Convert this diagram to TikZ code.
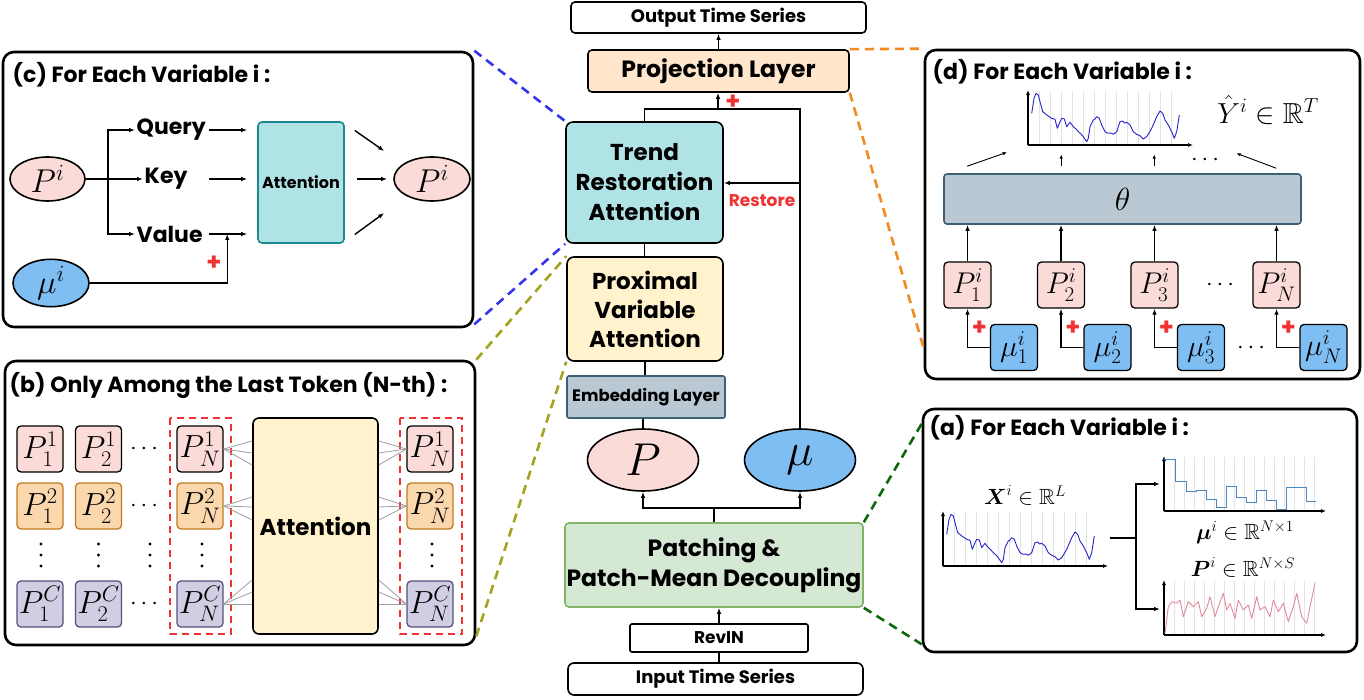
\RequirePackage{fix-cm}
\documentclass[tikz,border=0pt]{standalone}
\usepackage{fontspec}
\setmainfont{Poppins}
\usepackage{amsmath,amssymb}
\usetikzlibrary{arrows.meta,shapes.geometric,calc}
\newcommand\fs[2]{\fontsize{#1}{#2}\selectfont}
\definecolor{cpink}{HTML}{FADBD8}
\definecolor{cpeach}{HTML}{FFE6CC}
\definecolor{cteal}{HTML}{B0E3E6}
\definecolor{ctealdk}{HTML}{1A8A90}
\definecolor{cyel}{HTML}{FFF2CC}
\definecolor{cslate}{HTML}{BAC8D3}
\definecolor{cslatedk}{HTML}{3E5F78}
\definecolor{cgreen}{HTML}{D5E8D4}
\definecolor{cgreendk}{HTML}{82B366}
\definecolor{cblue}{HTML}{7EBEF2}
\definecolor{corg}{HTML}{FAD7AC}
\definecolor{corgdk}{HTML}{C07A20}
\definecolor{cpur}{HTML}{D0CEE2}
\definecolor{cpurdk}{HTML}{56517E}
\definecolor{cred}{HTML}{F03232}
\definecolor{dblue}{HTML}{3535EE}
\definecolor{dolive}{HTML}{A3A31F}
\definecolor{dorange}{HTML}{F28A1E}
\definecolor{dgreen}{HTML}{0B6B0B}
\definecolor{curvec}{HTML}{2525CC}
\definecolor{stepc}{HTML}{4A88C4}
\definecolor{pinkc}{HTML}{E08A9C}
\newcommand\tscurve{\draw[curvec, line width=0.9pt, line join=round] plot coordinates {(3.7,31.7) (5,40) (6,46.7) (8,51.7) (10.3,50) (12,43.3) (14.7,33.3) (16.5,32) (18.7,30) (21,28.5) (23.7,26.7) (27,25.7) (29.3,16.7) (32,23.3) (33.7,26.7) (36.3,26) (38.7,18.3) (42,22.7) (45.3,18.3) (48,16) (50.3,13.3) (53,11) (55.3,8.3) (58.7,3.3) (60.3,6.7) (62,18.3) (65.3,25) (67,26) (68.7,28.3) (71.3,26.7) (73.7,20) (77,13.3) (80.3,11.7) (83,12) (85.3,10.7) (88.7,13.3) (92,23.3) (94.7,24) (96.5,22) (98.7,22.7) (102,20) (105.3,13.3) (108.7,10.7) (112,9.3) (115.3,6) (118.7,8.3) (121,12) (123.7,16.7) (126,22) (128.7,28.3) (132,34) (134.7,31.7) (137,25) (140.3,20) (143.7,13.3) (146.3,6.7) (148.7,13.3) (151.3,30)};}
\newcommand\plotaxes[1]{\foreach \g in {11,22,...,143} \draw[gridln] (\g,0) -- (\g,54);
  \draw[axln] (0,0) -- (0,55); \draw[axln] (0,0) -- (#1,0);}
\begin{document}
\begin{tikzpicture}[x=1pt,y=-1pt, >={Latex[length=6pt,width=4.5pt]}, line width=1.4pt,
 cbox/.style={draw, rounded corners=4pt, line width=1.6pt, inner sep=0pt, align=center},
 panel/.style={draw, rounded corners=11pt, line width=2.6pt, inner sep=0pt},
 ell/.style={ellipse, draw, line width=1.6pt, inner sep=0pt},
 ttl/.style={anchor=west, inner sep=0pt, font=\fs{22}{26}\bfseries},
 pbox/.style={cbox, minimum width=46pt, minimum height=46pt, line width=1.3pt, font=\fs{32}{32}},
 dbox/.style={cbox, minimum width=47pt, minimum height=46pt, line width=1.3pt, font=\fs{30}{30}},
 dsh/.style={line width=2.6pt, dash pattern=on 9pt off 6pt},
 rdsh/.style={draw=cred, line width=2.4pt, dash pattern=on 7pt off 5pt},
 gl/.style={draw=gray!75, line width=0.8pt},
 plussign/.style={text=cred, font=\fs{24}{24}\bfseries, inner sep=0pt},
 gridln/.style={draw=gray!22, line width=0.5pt},
 axln/.style={->, line width=1.2pt, >={Latex[length=5pt,width=4pt]}},
 lbl/.style={font=\fs{22}{26}\bfseries, inner sep=1pt, anchor=west},
 thin/.style={->, line width=0.9pt, >={Latex[length=4.5pt,width=3.5pt]}},
 vdot/.style={circle, fill=black, inner sep=0pt, minimum size=3.4pt},
]
\useasboundingbox[fill=white] (0,0) rectangle (1364,700);

% ---------- central column ----------
\node[cbox, minimum width=295pt, minimum height=31pt, font=\fs{18}{21}\bfseries] (out) at (718.5,17.5) {Output Time Series};
\node[cbox, fill=cpeach, minimum width=261pt, minimum height=42pt, font=\fs{23.5}{27}\bfseries] (proj) at (718.5,71) {Projection Layer};
\node[cbox, fill=cteal, rounded corners=7pt, minimum width=157pt, minimum height=121pt, font=\fs{23}{30}\bfseries] (trend) at (644.5,182.5) {Trend\\Restoration\\Attention};
\node[cbox, fill=cyel, rounded corners=7pt, minimum width=156pt, minimum height=104pt, font=\fs{23}{29}\bfseries] (prox) at (645,309) {Proximal\\Variable\\Attention};
\node[cbox, fill=cslate, draw=cslatedk, rounded corners=2pt, minimum width=158pt, minimum height=42pt, font=\fs{16.5}{20}\bfseries] (emb) at (646,397) {Embedding Layer};
\node[ell, fill=cpink, minimum width=111pt, minimum height=62pt, font=\fs{46}{46}] (Pe) at (643,460) {$P$};
\node[ell, fill=cblue, minimum width=111pt, minimum height=62pt, font=\fs{46}{46}] (me) at (800,460) {$\mu$};
\node[cbox, fill=cgreen, draw=cgreendk, minimum width=298pt, minimum height=84pt, font=\fs{23.5}{30}\bfseries] (patch) at (714,565) {Patching \&\\Patch-Mean Decoupling};
\node[cbox, rounded corners=2pt, minimum width=178pt, minimum height=28pt, font=\fs{17}{20}\bfseries] (revin) at (719,638) {RevIN};
\node[cbox, rounded corners=6pt, minimum width=295pt, minimum height=32pt, font=\fs{18}{21}\bfseries] (inp) at (715.5,679) {Input Time Series};

\draw[->] (proj.north) -- (out.south);
\coordinate (jn) at (718,109);
\draw (trend.north) |- (jn) -| (me.north);
\draw[->] (jn) -- (jn |- proj.south);
\node[plussign] (pl0) at (733,102) {+};
\coordinate (rs) at (800,183);
\draw[->] (rs) -- (rs -| trend.east);
\node[text=cred, font=\fs{17}{20}\bfseries, inner sep=0pt] (rst) at (762,201) {Restore};
\draw (trend.south) -- (trend.south |- prox.north);
\draw (prox.south) -- (prox.south |- emb.north);
\draw (emb.south -| Pe.north) -- (Pe.north);
\coordinate (sp) at (714,508);
\draw (patch.north) -- (sp);
\draw[->] (sp) -| (Pe.south);
\draw[->] (sp) -| (me.south);
\draw[->] (revin.north) -- (revin.north |- patch.south);
\draw (inp.north -| revin.south) -- (revin.south);

% ---------- panel (c) ----------
\node[panel, minimum width=470pt, minimum height=275pt] (pc) at (238,189.5) {};
\node[ttl] (tc) at (12,75) {(c) For Each Variable i :};
\node[ell, fill=cpink, minimum width=75pt, minimum height=44pt, font=\fs{33}{33}] (cP) at (47.5,179) {$P^i$};
\node[ell, fill=cblue, minimum width=76pt, minimum height=38pt, font=\fs{33}{33}] (cM) at (51,283) {$\mu^i$};
\node[cbox, fill=cteal, draw=ctealdk, minimum width=86pt, minimum height=121pt, font=\fs{16}{19}\bfseries] (cA) at (301,182.5) {Attention};
\node[ell, fill=cpink, minimum width=76pt, minimum height=44pt, font=\fs{33}{33}] (cP2) at (432,179) {$P^i$};
\node[lbl] (cq) at (135,130) {Query};
\node[lbl] (ck) at (143,179) {Key};
\node[lbl] (cv) at (135,234) {Value};
\coordinate (cs) at (108,179);
\draw (cP.east) -- (cs);
\draw[->] (cs) |- (cq.west);
\draw[->] (cs) -- (ck.west);
\draw[->] (cs) |- (cv.west);
\draw[->] ($(cq.east -| cA.west)+(-48,0)$) -- ($(cq.east -| cA.west)+(-10,0)$);
\draw[->] ($(ck.east -| cA.west)+(-48,0)$) -- ($(ck.east -| cA.west)+(-10,0)$);
\draw[->] ($(cv.east -| cA.west)+(-48,0)$) -- ($(cv.east -| cA.west)+(-10,0)$);
\coordinate (cvj) at ($(cv.east -| cA.west)+(-30,0)$);
\draw[->] (cM.east) -| (cvj);
\node[plussign] (pl1) at (214,263) {+};
\draw[->] ($(cA.east)+(10,-52)$) -- ($(cP2.west)+(-9,-28)$);
\draw[->] ($(cA.east)+(12,-3.5)$) -- ($(cP2.west)+(-6,0)$);
\draw[->] ($(cA.east)+(10,52)$) -- ($(cP2.west)+(-9,34)$);

% ---------- panel (b) ----------
\node[panel, minimum width=470pt, minimum height=284pt] (pb) at (240,503) {};
\node[ttl] (tb) at (9,385) {(b) Only Among the Last Token (N-th) :};
\node[pbox, fill=cpink] (b11) at (40,449) {$P_1^1$};
\node[pbox, fill=cpink] (b21) at (98.5,449) {$P_2^1$};
\node[pbox, fill=cpink] (bN1) at (200,449) {$P_N^1$};
\node[pbox, fill=cpink] (bR1) at (430,449) {$P_N^1$};
\node[pbox, fill=corg, draw=corgdk] (b12) at (40,506) {$P_1^2$};
\node[pbox, fill=corg, draw=corgdk] (b22) at (98.5,506) {$P_2^2$};
\node[pbox, fill=corg, draw=corgdk] (bN2) at (200,506) {$P_N^2$};
\node[pbox, fill=corg, draw=corgdk] (bR2) at (430,506) {$P_N^2$};
\node[pbox, fill=cpur, draw=cpurdk] (b1C) at (40,604) {$P_1^C$};
\node[pbox, fill=cpur, draw=cpurdk] (b2C) at (98.5,604) {$P_2^C$};
\node[pbox, fill=cpur, draw=cpurdk] (bNC) at (200,604) {$P_N^C$};
\node[pbox, fill=cpur, draw=cpurdk] (bRC) at (430,604) {$P_N^C$};
\foreach \yy [count=\k] in {449,506,604} \node[font=\fs{24}{24}] (bh\k) at (146,\yy) {$\cdots$};
\foreach \xx in {41,98.5,150,202,432} \foreach \dy in {-11,0,11} \node[vdot] at (\xx,555+\dy) {};
\draw[rdsh] (170,418) rectangle (231,634);
\draw[rdsh] (400,418) rectangle (462,634);
\node[cbox, fill=cyel, rounded corners=6pt, minimum width=125pt, minimum height=216pt, font=\fs{23}{27}\bfseries] (bA) at (315.5,526) {Attention};
\foreach \n/\m/\a/\b/\c in {bN1/bR1/-8/4/16, bN2/bR2/-9/1/14, bNC/bRC/-24/-12/0} {
  \draw[gl] (\n.east) -- ($(\n.east -| bA.west)+(0,\a)$);
  \draw[gl] (\n.east) -- ($(\n.east -| bA.west)+(0,\b)$);
  \draw[gl] (\n.east) -- ($(\n.east -| bA.west)+(0,\c)$);
  \draw[gl] ($(\m.west -| bA.east)+(0,\a)$) -- (\m.west);
  \draw[gl] ($(\m.west -| bA.east)+(0,\b)$) -- (\m.west);
  \draw[gl] ($(\m.west -| bA.east)+(0,\c)$) -- (\m.west);
}

% ---------- panel (d) ----------
\node[panel, minimum width=435pt, minimum height=329pt] (pd) at (1142.5,214.5) {};
\node[ttl] (td) at (932,72) {(d) For Each Variable i :};
\begin{scope}[shift={(1028,145)}, yscale=-1]
  \plotaxes{165}
  \tscurve
\end{scope}
\node[font=\fs{29}{29}, inner sep=0pt] (dY) at (1268,110) {$\hat{Y}^i \in \mathbb{R}^T$};
\node[cbox, fill=cslate, draw=cslatedk, rounded corners=3pt, minimum width=357pt, minimum height=50pt, font=\fs{32}{32}] (dth) at (1122.5,199) {$\theta$};
\node[dbox, fill=cpink] (d1) at (967.5,285) {$P_1^i$};
\node[dbox, fill=cpink] (d2) at (1061,285) {$P_2^i$};
\node[dbox, fill=cpink] (d3) at (1154.5,285) {$P_3^i$};
\node[dbox, fill=cpink] (dN) at (1276.5,285) {$P_N^i$};
\node[dbox, fill=cblue] (m1) at (1014,347.5) {$\mu_1^i$};
\node[dbox, fill=cblue] (m2) at (1107.5,347.5) {$\mu_2^i$};
\node[dbox, fill=cblue] (m3) at (1201,347.5) {$\mu_3^i$};
\node[dbox, fill=cblue] (mN) at (1323.5,347.5) {$\mu_N^i$};
\node[font=\fs{24}{24}] (ddot1) at (1222,285) {$\cdots$};
\node[font=\fs{24}{24}] (ddot2) at (1253,348) {$\cdots$};
\node[font=\fs{24}{24}] (ddot3) at (1207,160) {$\cdots$};
\foreach \p/\m in {d1/m1,d2/m2,d3/m3,dN/mN} {
  \draw[->] (\p.north) -- (\p.north |- dth.south);
  \draw[->] (\m.west) -| (\p.south);
  \node[plussign] at ($(\p.south)+(12,20)$) {+};
}
\draw[thin] ($(dth.north west)+(24,-7)$) -- ($(dth.north west)+(64,-21)$);
\draw[thin] ($(dth.north west)+(118,-7)$) -- ($(dth.north west)+(118,-19)$);
\draw[thin] ($(dth.north west)+(211,-7)$) -- ($(dth.north west)+(211,-19)$);
\draw[thin] ($(dth.north west)+(333,-5)$) -- ($(dth.north west)+(293,-20)$);

% ---------- panel (a) ----------
\node[panel, minimum width=434pt, minimum height=243pt] (pa) at (1140,530.5) {};
\node[ttl] (ta) at (929,428) {(a) For Each Variable i :};
\begin{scope}[shift={(943,566)}, yscale=-1]
  \plotaxes{165}
  \tscurve
\end{scope}
\node[font=\fs{22}{22}] (aX) at (1025,495) {$\boldsymbol{X}^i \in \mathbb{R}^L$};
\begin{scope}[shift={(1164,511)}, yscale=-1]
  \foreach \g in {10,20,...,150} \draw[gridln] (\g,0) -- (\g,54);
  \draw[axln] (0,0) -- (0,55); \draw[axln] (0,0) -- (162,0);
  \draw[stepc, line width=1pt] (0,51.7) -- (11,51.7) -- (11,29.3) -- (22,29.3) -- (22,19.3) -- (32,19.3) -- (32,21) -- (42,21) -- (42,11.7) -- (52,11.7) -- (52,3.7) -- (62,3.7) -- (62,25) -- (72,25) -- (72,13.7) -- (82,13.7) -- (82,8.7) -- (92,8.7) -- (92,20.3) -- (102,20.3) -- (102,11) -- (112,11) -- (112,2) -- (122,2) -- (122,23.7) -- (142,23.7) -- (142,10) -- (152,10);
\end{scope}
\node[font=\fs{22}{22}] (aM) at (1245,532) {$\boldsymbol{\mu}^i \in \mathbb{R}^{N\times 1}$};
\begin{scope}[shift={(1164,635)}, yscale=-1]
  \foreach \g in {10,20,...,150} \draw[gridln] (\g,0) -- (\g,54);
  \draw[axln] (0,0) -- (0,55); \draw[axln] (0,0) -- (162,0);
  \draw[pinkc, line width=0.9pt, line join=round] plot coordinates {(1,1.7) (4.3,28.3) (7.7,33.3) (12.7,31.7) (16,35) (19.3,18.3) (24.3,33.3) (29.3,28.3) (34.3,33.3) (37.7,18.3) (42.7,26.7) (46,38.3) (51,18.3) (54.3,28.3) (59.3,41.7) (62.7,25) (66,31.7) (71,16.7) (74.3,35) (79.3,25) (84.3,30) (87.7,16.7) (92.7,38.3) (96,25) (101,28.3) (106,18.3) (109.3,35) (114.3,23.3) (119.3,31.7) (124.3,13.3) (129.3,28.3) (132.7,41.7) (137.7,18.3) (142.7,11.7) (146,28.3) (151,51.7)};
\end{scope}
\node[font=\fs{22}{22}] (aP) at (1243,567) {$\boldsymbol{P}^i \in \mathbb{R}^{N\times S}$};
\coordinate (xs) at (1110,538);
\coordinate (xj) at (1136,538);
\coordinate (amu) at (1160,484);
\coordinate (ap) at (1160,609);
\draw (xs) -- (xj);
\draw[->] (xj) |- (amu);
\draw[->] (xj) |- (ap);

% ---------- dashed zoom connectors ----------
\draw[dsh, dblue] (pc.north east) -- (trend.north west);
\draw[dsh, dblue] ([yshift=4pt]pc.south east) -- (trend.south west);
\draw[dsh, dolive] (pb.north east) -- (prox.north west);
\draw[dsh, dolive] ([yshift=10pt]pb.south east) -- (prox.south west);
\draw[dsh, dorange] (proj.north east) -- (pd.north west);
\draw[dsh, dorange] (proj.south east) -- ([yshift=32pt]pd.south west);
\draw[dsh, dgreen] (patch.north east) -- ([yshift=-16pt]pa.north west);
\draw[dsh, dgreen] (patch.south east) -- ([yshift=9pt]pa.south west);
\end{tikzpicture}
\end{document}
